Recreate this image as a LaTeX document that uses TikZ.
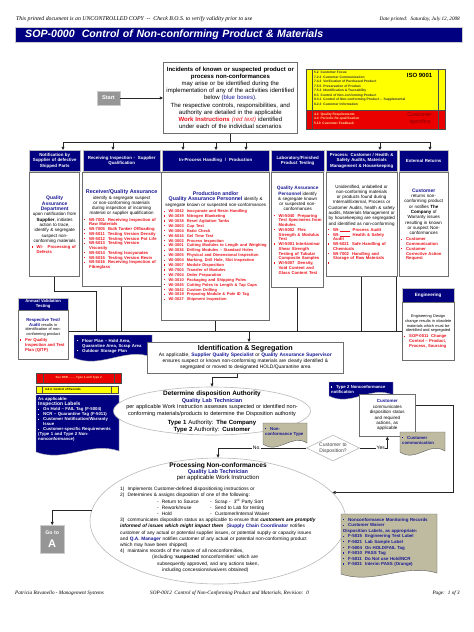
\documentclass[tikz,border=0pt]{standalone}
\usepackage{fontspec}
\setmainfont{Liberation Sans}
\newfontfamily\footfont{Liberation Serif}
\usetikzlibrary{arrows.meta, positioning, shapes.geometric}
\hyphenpenalty=10000

\definecolor{navyfill}{RGB}{0,0,128}
\definecolor{nbl}{RGB}{25,25,150}
\definecolor{wired}{RGB}{235,20,30}
\definecolor{boxgray}{RGB}{110,110,110}
\definecolor{startgray}{RGB}{150,150,150}
\definecolor{docgray}{RGB}{191,187,160}
\definecolor{isoyel}{RGB}{255,255,0}
\definecolor{isored}{RGB}{235,0,0}
\definecolor{isopale}{RGB}{255,225,150}
\definecolor{cspec}{RGB}{128,0,0}

% square bullet and work-instruction lists
\newcommand{\sq}{\rule[.45ex]{1.2pt}{1.2pt}}
\newcommand{\wi}{\par\hangindent=5pt\hangafter=1\noindent\makebox[5pt][l]{\sq}}
\newcommand{\wilist}[2][\fontsize{4.2}{4.75}\selectfont]{\par\vspace{1.5pt}{\raggedright\color{wired}\bfseries#1#2\par}}
% document shape with a wavy bottom: style, x1, y1, x2, y2
\newcommand{\wavedoc}[5]{%
  \path[#1] (#2,#3) -- (#4,#3) -- (#4,{#5-4})
    .. controls ({#2+0.65*(#4-#2)},{#5-14}) and ({#2+0.35*(#4-#2)},{#5+8}) .. (#2,{#5-3}) -- cycle;}

\begin{document}
\begin{tikzpicture}[x=1pt, y=-1pt,
  font=\fontsize{5}{6}\selectfont,
  >={Triangle[length=3.2pt,width=3pt]},
  conn/.style={draw=black!85, line width=.6pt},
  arr/.style={conn, ->},
  colhead/.style={draw=gray!50, fill=navyfill, text=white, align=center, inner xsep=2pt, inner ysep=1pt, minimum height=21pt, font=\bfseries\fontsize{4.4}{5.2}\selectfont},
  colbody/.style={draw=boxgray, line width=.7pt, fill=white, align=center, inner xsep=2pt, inner ysep=1pt, font=\fontsize{4.5}{5.3}\selectfont},
  framebox/.style={draw=boxgray, line width=.7pt, fill=white, align=center, inner xsep=2pt},
  greybtn/.style={fill=startgray, draw=gray!40, text=white, align=center, inner sep=0pt},
  navydoc/.style={fill=navyfill, draw=gray!60, line width=.4pt},
  khakidoc/.style={fill=docgray, draw=gray!70!black, line width=.4pt},
  doctext/.style={anchor=north west, align=left, inner sep=0pt, font=\bfseries\fontsize{4.3}{5}\selectfont},
  oval/.style={ellipse, draw=gray!55, line width=.6pt, fill=white, inner sep=0pt},
  foot/.style={font=\footfont\itshape\fontsize{5.2}{6}\selectfont, inner sep=0pt},
  lbl/.style={fill=white, inner sep=.6pt, font=\fontsize{5}{6}\selectfont}
]
\fill[white] (0,0) rectangle (474,632);
\useasboundingbox (0,0) rectangle (474,632);

% header
\node[foot, anchor=west, font=\footfont\itshape\fontsize{5.8}{6}\selectfont] (hdleft) at (16,19) {This printed document is an UNCONTROLLED COPY \ -- \ Check B.O.S. to verify validity prior to use};
\node[foot, anchor=east] (hdright) at (460,19) {Date printed: \ Saturday, July 12, 2008};
\node[anchor=north west, fill=navyfill, draw=gray!40, text=white, minimum height=15pt, text width=427pt, inner xsep=10pt, inner ysep=0pt, align=left, font=\bfseries\itshape\fontsize{10.6}{11}\selectfont] (title) at (15,27) {SOP-0000\ \ Control of Non-conforming Product \& Materials};

% start and incidents
\node[greybtn, minimum width=23pt, minimum height=14pt, font=\bfseries\fontsize{5.5}{6}\selectfont] (start) at (108.5,98) {Start};
\node[framebox, anchor=north west, minimum height=71pt, text width=130pt, font=\fontsize{6}{7.2}\selectfont] (incident) at (163,62) {{\bfseries Incidents of known or suspected product or\\ process non-conformances}\\ may arise or be identified during the\\ implementation of any of the activities identified\\ below {\color{nbl}(blue boxes)}.\\ The respective controls, responsibilities, and\\ authority are detailed in the applicable\\ {\color{wired}\bfseries Work Instructions} {\color{wired}\itshape(red text)} identified\\ under each of the individual scenarios};
\draw[arr] (start) -- (incident.west |- start);

% ISO 9001 / customer-specifics
\node[anchor=north west, fill=isoyel, draw=gray!60!black, minimum width=139pt, minimum height=41pt, inner sep=0pt] (iso) at (306,69) {};
\node[anchor=north west, fill=isored, draw=gray!60!black, minimum width=139pt, minimum height=19pt, inner sep=0pt] (custspec) at (306,110) {};
\draw[gray!60!black, line width=.4pt] ([xshift=6pt]iso.north west) -- ([xshift=6pt]custspec.south west) ([xshift=-7pt]iso.north east) -- ([xshift=-7pt]custspec.south east);
\node[anchor=north west, align=left, inner sep=0pt, text=black!80, font=\bfseries\fontsize{3.3}{4.5}\selectfont] (isolist) at ([xshift=8pt,yshift=-2pt]iso.north west) {5.2 \ Customer Focus\\ 7.2.3 \ Customer Communication\\ 7.4.3 \ Verification of Purchased Product\\ 7.5.5 \ Preservation of Product\\ 7.5.3 \ Identification \& Traceability\\ 8.3 \ Control of Non-conforming Product\\ 8.3.1 \ Control of Non-conforming Product -- \ Supplemental\\ 8.2.3 \ Customer Information};
\node[anchor=north east, inner sep=0pt, font=\bfseries\fontsize{6}{7}\selectfont] (isottl) at ([xshift=-13pt,yshift=-4pt]iso.north east) {ISO 9001};
\node[anchor=north west, align=left, inner sep=0pt, text=isopale, font=\bfseries\fontsize{3.3}{4.5}\selectfont] (cslist) at ([xshift=8pt,yshift=-2.5pt]custspec.north west) {4.2 \ Quality Requirements\\ 4.4 \ Periodic Re-qualification\\ 5.10 \ Customer Feedback};
\node[anchor=north east, align=center, inner sep=0pt, text=cspec, text width=34pt, font=\fontsize{5.5}{7.5}\selectfont] (csttl) at ([xshift=-8pt,yshift=-2pt]custspec.north east) {Customer-\\specifics};

% scenario columns
\node[colhead, anchor=north west, text width=47pt] (notif) at (29,150) {Notification by\\ Supplier of defective\\ Shipped Parts};
\node[colhead, anchor=north west, text width=73pt] (recv) at (83,150) {Receiving Inspection - \ Supplier\\ Qualification};
\node[colhead, anchor=north west, text width=103pt] (inproc) at (162,150) {In-Process Handling \ / \ Production};
\node[colhead, anchor=north west, text width=49pt] (lab) at (271,150) {Laboratory/Finished\\ Product Testing};
\node[colhead, anchor=north west, text width=67pt] (audit) at (326,150) {Process: Customer / Health \&\\ Safety Audits, Materials\\ Management \& Housekeeping};
\node[colhead, anchor=north west, text width=45pt] (returns) at (399,150) {External Returns};

\node[colbody, text width=46pt, minimum height=104pt, below=1pt of notif] (notifbody) {{\color{nbl}\bfseries\fontsize{5}{5.6}\selectfont Quality\\ Assurance\\ Department}\\ upon notification from {\bfseries Supplier}, initiates action to trace, identify \& segregate suspect non-conforming materials \wilist{\wi WI- \ \ Processing of Defects}};
\node[colbody, text width=75pt, minimum height=114pt, below=1pt of recv] (recvbody) {{\color{nbl}\bfseries\fontsize{5.4}{6}\selectfont Receiver/Quality Assurance}\\ identify \& segregate suspect or non-conforming materials during inspection of incoming material or supplier qualification \wilist{\wi WI-7001 \ Receiving Inspection of Raw Materials \wi WI-7005 \ Bulk Tanker Offloading \wi WI-5011 \ Testing Version Density \wi WI-5012 \ Testing Version Pot Life \wi WI-5013 \ Testing Version Viscosity \wi WI-5014 \ Testing Isocyanates \wi WI-5015 \ Testing Version Resin \wi WI-5016 \ Receiving Inspection of Fibreglass}};
\node[colbody, text width=104pt, minimum height=148pt, inner ysep=.5pt, below=1pt of inproc] (inprocbody) {{\color{nbl}\bfseries\fontsize{5.3}{6}\selectfont Production and/or\\ Quality Assurance Personnel} identify \& segregate known or suspected non-conformances \wilist[\fontsize{4}{4.9}\selectfont]{\wi WI-3042 \ Isocyanate and Resin Handling \wi WI-3039 \ Nitrogen Blanketing \wi WI-3038 \ Reset Agitation Tanks \wi WI-3003 \ Cup Test \wi WI-3004 \ Ratio Check \wi WI-5016 \ Gel Time Test \wi WI-3002 \ Process Inspection \wi WI-3001 \ Cutting Modules to Length and Weighing \wi WI-3036 \ Drilling Modules -- Standard Holes \wi WI-3005 \ Physical and Dimensional Inspection \wi WI-3004 \ Marking, Drill Hole, Slot Inspection \wi WI-3007 \ Module Disposition \wi WI-7003 \ Transfer of Modules \wi WI-7004 \ Order Preparation \wi WI-3010 \ Packaging and Shipping Poles \wi WI-3045 \ Cutting Poles to Length \& Tap Caps \wi WI-3042 \ Custom Drilling \wi WI-3019 \ Preparing Module \& Pole ID Tag \wi WI-3027 \ Shipment Inspection}};
\node[colbody, text width=48pt, minimum height=115pt, below=1pt of lab] (labbody) {{\color{nbl}\bfseries\fontsize{4.7}{5.3}\selectfont Quality Assurance Personnel} identify \& segregate known or suspected non-conformances \wilist{\wi WI-5040 \ Preparing Test Specimens from Modules \wi WI-5002 \ Flex Strength \& Modulus Test \wi WI-5001 Interlaminar Shear Strength Testing of Tubular Composite Samples \wi WI-5007 \ Density, Void Content and Glass Content Test}};
\node[colbody, text width=67pt, minimum height=104pt, below=1pt of audit] (auditbody) {Unidentified, unlabelled or non-conforming materials or products found during Internal/External, Process or Customer Audits, health \& safety audits, Materials Management or by housekeeping are segregated and identified as non-conforming \wilist{\wi WI-\rule{10pt}{.4pt} \ Process Audit \wi WI-\rule{10pt}{.4pt} \ Health \& Safety Audit \wi WI-5021 \ Safe Handling of Chemicals \wi WI-7002 \ Handling and Storage of Raw Materials \wi\mbox{}}};
\node[colbody, text width=45pt, minimum height=104pt, below=1pt of returns] (returnsbody) {{\color{nbl}\bfseries\fontsize{5}{5.6}\selectfont Customer}\\ returns non-conforming product or notifies {\bfseries The Company} of Warranty issues resulting in known or suspect Non-conformances \wilist{\wi Customer Communication \wi Customer Corrective Action Request}};

% incidents feed every scenario
\coordinate (b1) at (63,142);
\coordinate (b2) at (113,142);
\coordinate (b3) at (183,142);
\coordinate (b4) at (216,142);
\coordinate (b5) at (246,142);
\coordinate (b6) at (380,142);
\coordinate (b7) at (430,142);
\draw[conn] (incident.south) -- (incident.south |- b1);
\draw[conn] (b1) -- (b7);
\foreach \b/\n in {b1/notif, b2/recv, b3/inproc, b4/inproc, b5/inproc, b6/audit, b7/returns}
  \draw[arr] (\b) -- (\b |- \n.north);

% side scenarios
\node[colhead, anchor=north west, text width=46pt, minimum height=12pt, font=\bfseries\fontsize{4.2}{4.8}\selectfont] (annual) at (18,298) {Annual Validation\\ Testing};
\node[colbody, text width=46pt, minimum height=49pt, below=0pt of annual, font=\fontsize{3.9}{4.6}\selectfont] (annualbody) {{\color{nbl}\bfseries\fontsize{4.3}{4.8}\selectfont Respective Test/\\ Audit} results in identification of non-conforming product \wilist{\wi Per Quality Inspection and Test Plan (QITP)}};
\node[colhead, anchor=north west, text width=48pt, minimum height=14pt, font=\bfseries\fontsize{4.6}{5.2}\selectfont] (eng) at (402,288) {Engineering};
\node[colbody, text width=48pt, minimum height=58pt, below=0pt of eng, font=\fontsize{3.9}{4.6}\selectfont] (engbody) {Engineering Design change results in obsolete materials which must be identified and segregated \wilist{\wi SOP-0011 \ Change Control -- Product, Process, Sourcing}};

% collecting line
\coordinate (k0) at (249,331);
\coordinate (k1) at (96,331);
\coordinate (k6) at (396,331);
\draw[conn] (notifbody.south) -- ++(0,14) -| (k1);
\foreach \n in {recvbody, inprocbody, labbody, auditbody}
  \draw[conn] (\n.south) -- (\n.south |- k0);
\draw[conn] (k6 |- returnsbody.south) -- (k6);
\draw[conn] (annualbody.east |- k0) -- (engbody.west |- k0);

% identification
\wavedoc{navydoc}{74}{335}{152}{361}
\node[doctext, text=white, text width=74pt] (floorplan) at (77,337) {\wi Floor Plan -- Hold Area, Quarantine Area, Scrap Area \wi Outdoor Storage Plan};
\node[framebox, anchor=north west, minimum height=31pt, text width=193pt, inner xsep=1.5pt, font=\fontsize{4.9}{6}\selectfont] (ident) at (147,342) {{\bfseries\fontsize{7.2}{8}\selectfont Identification \& Segregation}\\ As applicable, {\color{nbl}\bfseries Supplier Quality Specialist} or {\color{nbl}\bfseries Quality Assurance Supervisor}\\ ensures suspect or known non-conforming materials are clearly identified \&\\ segregated or moved to designated HOLD/Quarantine area};
\draw[arr] (k0) -- (k0 |- ident.north);

% records on the left
\node[anchor=north west, fill=isored, draw=gray!60!black, minimum width=85pt, minimum height=10pt, inner sep=0pt, text=isopale, font=\bfseries\fontsize{3}{3.5}\selectfont] (dsr) at (36,373) {See DSR - - - - Type 1 and Type 2};
\draw[gray!60!black, line width=.4pt] ([xshift=7pt]dsr.north west) -- ([xshift=7pt]dsr.south west) ([xshift=-7pt]dsr.north east) -- ([xshift=-7pt]dsr.south east);
\node[anchor=north west, fill=isoyel, draw=gray!60!black, minimum width=82pt, minimum height=7pt, inner sep=0pt] (records) at (36,386) {};
\draw[gray!60!black, line width=.4pt] ([xshift=6pt]records.north west) -- ([xshift=6pt]records.south west) ([xshift=-7pt]records.north east) -- ([xshift=-7pt]records.south east);
\node[anchor=west, inner sep=0pt, font=\bfseries\fontsize{3}{3.5}\selectfont] (recordstxt) at ([xshift=9pt]records.west) {4.2.4 \ Control of Records};
\wavedoc{navydoc}{36}{395}{119}{455}
\node[doctext, text=white, text width=80pt] (labels) at (38,397) {As applicable:\\[.5pt] {\fontsize{5}{5.6}\selectfont Inspection Labels} \wi On Hold -- FAIL Tag (F-5004) \wi NCR -- Quarantine Tag (F-5011) \wi Customer Notification/Warranty Issue \wi Customer-specific Requirements (Type 1 and Type 2 Non-nonconformance)};

% disposition authority
\node[oval, minimum width=197pt, minimum height=48pt] (disp) at (212,411) {};
\node[align=center, text width=196pt, inner sep=0pt, font=\fontsize{5.5}{6.8}\selectfont] (disptxt) at (212,411.5) {{\bfseries\fontsize{6.4}{7.2}\selectfont Determine disposition Authority}\\ {\color{nbl}\bfseries Quality Lab Technician}\\ per applicable Work Instruction assesses suspected or identified non-\\ conforming materials/products to determine the Disposition authority\\[1pt] {\fontsize{6}{7.6}\selectfont{\bfseries Type 1} Authority: {\bfseries The Company}\\ {\bfseries Type 2} Authority: {\bfseries Customer}}};
\draw[arr] ([xshift=-8pt]ident.south) -- ++(0,4) -| (disp.north);

\wavedoc{khakidoc}{263}{423}{307}{447}
\node[doctext, text=nbl, text width=40pt] (nctype) at (265,425) {\wi Non-conformance Type};

\wavedoc{navydoc}{329}{382}{393}{399}
\node[doctext, text=white, text width=62pt, font=\bfseries\fontsize{4.2}{4.9}\selectfont] (type2) at (331,383.5) {\wi Type 2 Nonconformance notification};
\node[framebox, anchor=north west, minimum height=42pt, text width=52pt, font=\fontsize{4.5}{5.4}\selectfont] (cust) at (359,394) {{\color{nbl}\bfseries Customer}\\ communicates\\ disposition status\\ and required\\ actions, as\\ applicable};
\wavedoc{khakidoc}{400}{432}{445}{455}
\node[doctext, text=nbl, text width=42pt] (custcomm) at (402,434) {\wi Customer communication};

\node[diamond, aspect=2, draw=gray!55, line width=.6pt, fill=white, minimum width=53pt, minimum height=26pt, inner sep=0pt] (dec) at (333,448) {};
\node[align=center, text width=40pt, inner sep=0pt, text=black!75, font=\fontsize{5}{6}\selectfont] (dectxt) at (dec) {Customer to\\ Disposition?};

% processing
\node[oval, minimum width=256pt, minimum height=126pt] (proc) at (218,521) {};
\node[anchor=north, align=center, text width=200pt, inner sep=0pt] (proctitle) at (218,463) {{\bfseries\fontsize{6.6}{7.6}\selectfont Processing Non-conformances}\\ {\color{nbl}\bfseries\fontsize{5.5}{7}\selectfont Quality Lab Technician}\\ {\fontsize{6}{7}\selectfont per applicable Work Instruction}};
\node[anchor=north west, align=left, text width=235pt, inner sep=0pt, font=\fontsize{4.8}{6.2}\selectfont] (proctxt) at (120,487) {1) \ Implements Customer-defined dispositioning instructions or\\
2) \ Determines \& assigns disposition of one of the following:\\
\hspace*{37pt}\makebox[53pt][l]{- \ Return to Source}- \ Scrap - \ 3\textsuperscript{rd} Party Sort\\
\hspace*{37pt}\makebox[53pt][l]{- \ Rework/reuse}- \ Send to Lab for testing\\
\hspace*{37pt}\makebox[53pt][l]{- \ Hold}- \ Customer/Internal Waiver\\
3) \ communicates disposition status as applicable to ensure that {\bfseries\itshape customers are promptly}\\
{\bfseries\itshape informed of issues which might impact them} \ ({\color{nbl}\bfseries Supply Chain Coordinator} notifies\\
customer of any actual or potential supplier issues, or potential supply or capacity issues\\
and {\color{nbl}\bfseries Q.A. Manager} notifies customer of any actual or potential non-conforming product\\
which may have been shipped)\\
4) \ maintains records of the nature of all nonconformities,\\
\hspace*{32pt}(including `{\bfseries suspected} nonconformities' which are\\
\hspace*{37pt}subsequently approved, and any actions taken,\\
\hspace*{42pt}including concessions/waivers obtained)};

\draw[arr] (dec.west) -| node[lbl, pos=.28] (nolbl) {No.} (proc.north);
\draw[arr] (dec.east) -| node[lbl, pos=.38] (yeslbl) {Yes} (cust.south);
\draw[arr] ([yshift=10pt]cust.east) -- ++(38,0) |- (proc.14);

\node[greybtn, anchor=north west, minimum width=24pt, minimum height=28pt, font=\bfseries] (goA) at (40,525) {{\fontsize{5.2}{6}\selectfont Go to}\\[1pt]{\fontsize{11}{12}\selectfont A}};
\draw[arr] (proc.175) -| (goA.north);

\wavedoc{khakidoc}{341}{514}{437}{577}
\node[doctext, text=nbl, text width=93pt, font=\bfseries\fontsize{4.4}{5.55}\selectfont] (dispdocs) at (343,515.5) {\wi Nonconformance Monitoring Records \wi Customer Waiver\par\noindent Disposition Labels, as appropriate: \wi F-5015 \ Engineering Test Label \wi F-5021 \ Lab Sample Label \wi F-5004 \ On HOLD/FAIL Tag \wi F-5010 \ PASS Tag \wi F-5011 \ Do Not use Hold/NCR \wi F-5031 \ Interim PASS (Orange)};

% footer
\node[foot, anchor=west] (ftleft) at (15,593) {Patricia Ravanello - Management Systems};
\node[foot, anchor=west] (ftmid) at (150,593) {SOP-0012 \ Control of Non-Conforming Product and Materials, Revision: \ 0};
\node[foot, anchor=east] (ftright) at (460,593) {Page: \ 1 of 3};
\end{tikzpicture}
\end{document}
